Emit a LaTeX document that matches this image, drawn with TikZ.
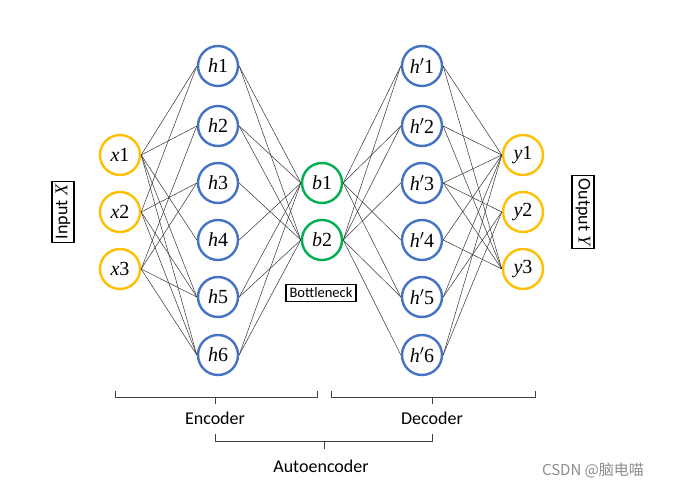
\documentclass[tikz,border=0pt]{standalone}
\usepackage{fontspec}
\setmainfont{Carlito}
\newfontfamily\cjk{Noto Sans CJK SC}
\newfontfamily\mser{Liberation Serif}
\newcommand{\mv}[1]{{\mser\itshape #1}}
\begin{document}
\begin{tikzpicture}[x=1pt,y=-1pt,
  neu/.style={circle,line width=2.4pt,minimum size=40pt,inner sep=0pt,font=\fontsize{20}{20}\selectfont\mser},
  inp/.style={neu,draw={rgb,255:red,255;green,192;blue,0}},
  hid/.style={neu,draw={rgb,255:red,68;green,114;blue,196}},
  bot/.style={neu,draw={rgb,255:red,0;green,176;blue,80}},
  edge/.style={draw=black!80,line width=0.5pt},
  lbl/.style={draw,line width=1.4pt,inner sep=3.5pt,font=\fontsize{18}{18}\selectfont},
  brace/.style={draw=black!75,line width=0.6pt},
  txt/.style={font=\fontsize{18}{18}\selectfont}]
\useasboundingbox (0,0) rectangle (673,490);
\foreach \i/\y in {1/155,2/212,3/269}{
  \node[inp] (x\i) at (120,\y) {\mv{x}\i};
  \node[inp] (y\i) at (523,\y) {\mv{y}\i};}
\foreach \i/\y in {1/66,2/126,3/183,4/240,5/297,6/355}{
  \node[hid] (h\i) at (218,\y) {\mv{h}\i};
  \node[hid] (g\i) at (422,\y) {\mv{h}$'$\i};}
\node[bot] (b1) at (322,183) {\mv{b}1};
\node[bot] (b2) at (322,240) {\mv{b}2};
\foreach \a/\b in {1/1,1/2,1/4,1/5,1/6,2/1,2/3,2/5,2/6,3/2,3/3,3/5,3/6}
  \draw[edge] (x\a.east) -- (h\b.west);
\foreach \a/\b in {1/1,1/2,2/1,2/2,3/2,4/1,5/1,5/2,6/1,6/2}
  \draw[edge] (h\a.east) -- (b\b.west);
\foreach \a/\b in {1/1,1/2,1/4,1/5,2/1,2/2,2/3,2/5,2/6}
  \draw[edge] (b\a.east) -- (g\b.west);
\foreach \a/\b in {1/1,1/3,2/1,2/3,3/1,3/2,3/3,4/1,4/3,5/1,5/2,6/1,6/2}
  \draw[edge] (g\a.east) -- (y\b.west);
\node[lbl,rotate=90] (inx) at (63,212) {Input \mv{X}};
\node[lbl,rotate=-90] (outy) at (583,212) {Output \mv{Y}};
\node[lbl,font=\fontsize{14.5}{14.5}\selectfont,line width=1.3pt] (bn) at (321,293) {Bottleneck};
\draw[brace] (115,391)--(115,397)--(317,397)--(317,391);
\draw[brace] (215,397)--(215,404);
\draw[brace] (331,391)--(331,397)--(535,397)--(535,391);
\draw[brace] (432,397)--(432,404);
\draw[brace] (215,434)--(215,441)--(432,441)--(432,434);
\draw[brace] (324,441)--(324,449);
\node[txt] (enc) at (215,418) {Encoder};
\node[txt] (dec) at (432,418) {Decoder};
\node[txt] (ae) at (321,466) {Autoencoder};
\node[font=\fontsize{15}{15}\selectfont\cjk,text=black!45] (wm) at (593,470) {CSDN @脑电喵};
\end{tikzpicture}
\end{document}
